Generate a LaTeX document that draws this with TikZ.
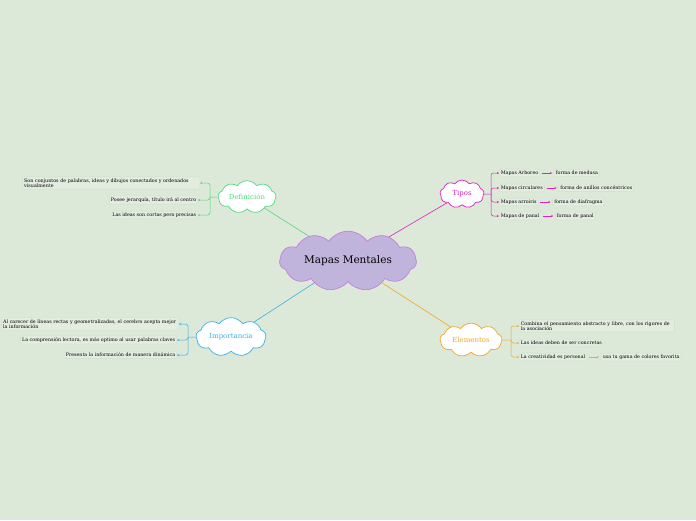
\documentclass[tikz,border=0pt]{standalone}
\usepackage{fontspec}
\setmainfont{DejaVu Serif}
\usetikzlibrary{shapes.symbols,arrows.meta,positioning}
\definecolor{bg}{HTML}{DCE8D8}
\definecolor{leaff}{HTML}{E2ECDF}
\definecolor{leafd}{HTML}{CFE0CC}
\definecolor{cgreen}{HTML}{4FDB80}
\definecolor{cmag}{HTML}{E020C0}
\definecolor{cblue}{HTML}{3BB0E8}
\definecolor{corg}{HTML}{F5A623}
\definecolor{cpur}{HTML}{C77DD9}
\definecolor{lav}{HTML}{C0B4DC}
\begin{document}
\begin{tikzpicture}[x=1pt,y=-1pt,
  leaf/.style={fill=leaff,draw=leafd,rounded corners=1pt,inner sep=1.6pt,font=\fontsize{4.8}{5.4}\selectfont,align=left},
  cl/.style={cloud,cloud puffs=9,cloud puff arc=110,aspect=2.2,fill=white,line width=0.7pt,inner sep=1pt,font=\fontsize{7}{8}\selectfont},
  br/.style={line width=0.5pt,rounded corners=2.5pt},
  tip/.style={-{Stealth[length=2pt,width=2pt]},line width=0.5pt}]
\fill[bg] (0,0) rectangle (696,520);
\useasboundingbox (0,0) rectangle (696,520);
% central
\node[cloud,cloud puffs=11,cloud puff arc=110,aspect=3.2,fill=lav,draw=cpur,line width=0.7pt,minimum width=137pt,minimum height=42pt,font=\fontsize{10.5}{11}\selectfont] (c) at (348,261) {Mapas Mentales};
% Definicion
\node[cl,draw=cgreen,text=cgreen,minimum width=58pt,minimum height=27pt] (d) at (247,197) {Definición};
\node[leaf,text width=174pt,anchor=east] (d1) at (200,183) {Son conjuntos de palabras, ideas y dibujos conectados y ordenados visualmente};
\node[leaf,anchor=east] (d2) at (198,200) {Posee jerarquía, título irá al centro};
\node[leaf,anchor=east] (d3) at (198,215) {Las ideas son cortas pero precisas};
\draw[cgreen,line width=0.6pt] (c) -- (d);
\draw[cgreen,br] (d.west) -- (210,197);
\foreach \n in {d1,d2,d3}{\draw[cgreen,br,tip] (210,197) |- (\n.east);}
% Tipos
\node[cl,draw=cmag,text=cmag,minimum width=44pt,minimum height=28pt] (t) at (462,194) {Tipos};
\node[leaf,anchor=west] (t1) at (499,173) {Mapas Arboreo};
\node[leaf,anchor=west] (t2) at (499,188) {Mapas circulares};
\node[leaf,anchor=west] (t3) at (499,202) {Mapas arroiris};
\node[leaf,anchor=west] (t4) at (499,216) {Mapas de panal};
\node[leaf,right=14pt of t1] (s1) {forma de medusa};
\node[leaf,right=14pt of t2] (s2) {forma de anillos concéntricos};
\node[leaf,right=14pt of t3] (s3) {forma de diafragma};
\node[leaf,right=14pt of t4] (s4) {forma de panal};
\draw[cmag,line width=0.6pt] (c) -- (t);
\draw[cmag,br] (t.east) -- (491,194);
\foreach \n in {t1,t2,t3,t4}{\draw[cmag,br,tip] (491,194) |- (\n.west);}
\foreach \a/\b in {t1/s1,t2/s2,t3/s3,t4/s4}{\draw[cmag,tip] ([xshift=2pt]\a.east) -- ([xshift=-2pt]\b.west);}
% Importancia
\node[cl,draw=cblue,text=cblue,minimum width=70pt,minimum height=28pt] (i) at (231,337) {Importancia};
\node[leaf,text width=174pt,anchor=east] (i1) at (179,324) {Al carecer de líneas rectas y geometralizadas, el cerebro acepta mejor la información};
\node[leaf,anchor=east] (i2) at (177,340) {La comprensión lectora, es más optimo al usar palabras claves};
\node[leaf,anchor=east] (i3) at (177,355) {Presenta la información de manera dinámica};
\draw[cblue,line width=0.6pt] (c) -- (i);
\draw[cblue,br] (i.west) -- (188,337);
\foreach \n in {i1,i2,i3}{\draw[cblue,br,tip] (188,337) |- (\n.east);}
% Elementos
\node[cl,draw=corg,text=corg,minimum width=62pt,minimum height=28pt] (e) at (471,340) {Elementos};
\node[leaf,text width=152pt,anchor=west] (e1) at (519,326) {Combina el pensamiento abstracto y libre, con los rigores de la asociación};
\node[leaf,anchor=west] (e2) at (519,343) {Las ideas  deben de ser concretas};
\node[leaf,anchor=west] (e3) at (519,357) {La creatividad es personal};
\node[leaf,right=14pt of e3] (e4) {usa tu gama de colores favorita};
\draw[corg,line width=0.6pt] (c) -- (e);
\draw[corg,br] (e.east) -- (511,340);
\foreach \n in {e1,e2,e3}{\draw[corg,br,tip] (511,340) |- (\n.west);}
\draw[corg,tip] ([xshift=2pt]e3.east) -- ([xshift=-2pt]e4.west);
\end{tikzpicture}
\end{document}
